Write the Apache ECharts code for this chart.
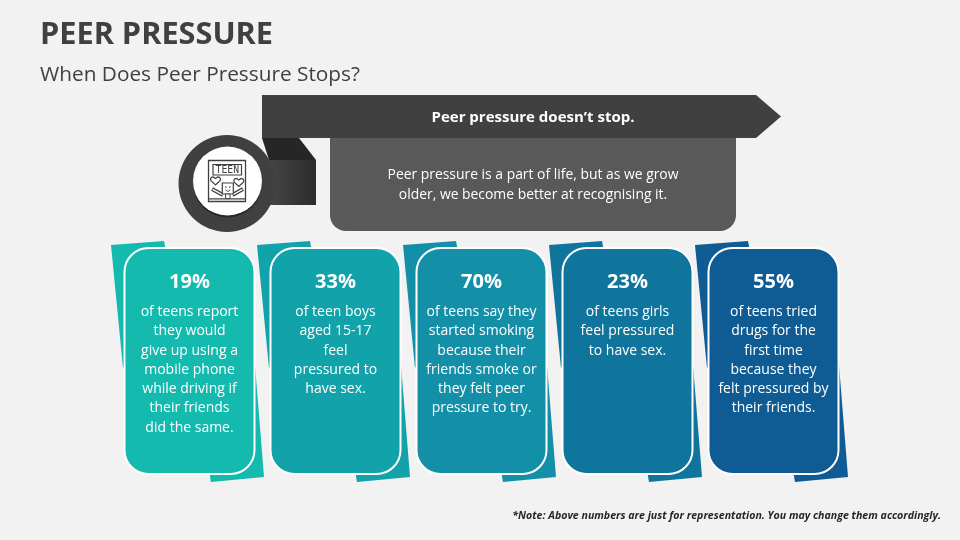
<!DOCTYPE html>
<html>
<head>
<meta charset="utf-8">
<style>html,body{margin:0;padding:0;background:#f2f2f2}#main{width:960px;height:540px}</style>
<script src="https://cdn.jsdelivr.net/npm/echarts@6/dist/echarts.min.js"></script>
</head>
<body>
<div id="main"></div>
<script>
var titleText = 'PEER PRESSURE';
var subTitle = 'When Does Peer Pressure Stops?';
var bannerText = 'Peer pressure doesn\u2019t stop.';
var boxLines = ['Peer pressure is a part of life, but as we grow', 'older, we become better at recognising it.'];
var noteText = '*Note: Above numbers are just for representation. You may change them accordingly.';
var percents = ['19%', '33%', '70%', '23%', '55%'];
var cardTexts = [
	['of teens report', 'they would', 'give up using a', 'mobile phone', 'while driving if', 'their friends', 'did the same.'],
	['of teen boys', 'aged 15-17', 'feel', 'pressured to', 'have sex.'],
	['of teens say they', 'started smoking', 'because their', 'friends smoke or', 'they felt peer', 'pressure to try.'],
	['of teens girls', 'feel pressured', 'to have sex.'],
	['of teens tried', 'drugs for the', 'first time', 'because they', 'felt pressured by', 'their friends.']
];
var cardColors = ['#14BAAE', '#12A2A9', '#1390A8', '#10759C', '#0F5C94'];

var font = '"Open Sans", sans-serif';
var dark = '#404040';

function poly(pts, color, z) {
	return {type: 'polygon', shape: {points: pts}, style: {fill: color}, z: z, silent: true};
}
function txt(x, y, s, size, weight, color, align, extra) {
	var st = {x: x, y: y, text: s, fontFamily: font, fontSize: size, fontWeight: weight, fill: color, textAlign: align || 'center', textVerticalAlign: 'middle'};
	if (extra) { for (var k in extra) st[k] = extra[k]; }
	return {type: 'text', style: st, z: 20, silent: true};
}
function ln(x1, y1, x2, y2, w, color, z) {
	return {type: 'line', shape: {x1: x1, y1: y1, x2: x2, y2: y2}, style: {stroke: color || dark, lineWidth: w || 1}, z: z || 15, silent: true};
}
function box(x, y, w, h, fill, lw, z) {
	return {type: 'rect', shape: {x: x, y: y, width: w, height: h}, style: {fill: fill || 'none', stroke: dark, lineWidth: lw || 1}, z: z || 14, silent: true};
}
function heart(cx, cy) {
	var pts = [[0, 4.4], [-4.6, 0.2], [-5, -1.6], [-4, -3.2], [-2.2, -3.6], [0, -2], [2.2, -3.6], [4, -3.2], [5, -1.6], [4.6, 0.2]];
	return {type: 'polygon', shape: {points: pts.map(function (p) { return [cx + p[0], cy + p[1]]; })}, style: {fill: '#fff', stroke: dark, lineWidth: 1.2}, z: 15, silent: true};
}

var els = [];
els.push(txt(40, 35.5, titleText, 30.7, 700, dark, 'left'));
els.push(txt(40, 75, subTitle, 20.8, 400, dark, 'left'));
els.push(txt(941, 515.5, noteText, 10.6, 700, '#262626', 'right', {fontStyle: 'italic'}));

// grey box and arrow banner
els.push({type: 'rect', shape: {x: 330, y: 130, width: 406, height: 101, r: [0, 0, 16, 16]}, style: {fill: '#595959'}, z: 2, silent: true});
els.push(poly([[262, 95], [756, 95], [781, 116.5], [756, 138], [262, 138]], dark, 3));
els.push(txt(533, 117.5, bannerText, 15, 700, '#fff'));
els.push(txt(533, 175, boxLines[0], 13.9, 400, '#fff'));
els.push(txt(533, 195, boxLines[1], 13.9, 400, '#fff'));

// ribbon behind the badge
els.push(poly([[262, 138], [299, 138], [316, 160], [269, 160]], '#262626', 4));
els.push({type: 'rect', shape: {x: 262, y: 160, width: 54, height: 45}, z: 4, silent: true, style: {
	fill: new echarts.graphic.LinearGradient(0, 0, 1, 0, [{offset: 0, color: '#4a4a4a'}, {offset: 1, color: '#2b2b2b'}])
}});

// badge
els.push({type: 'circle', shape: {cx: 227, cy: 183.5, r: 48.5}, style: {fill: dark}, z: 5, silent: true});
els.push({type: 'circle', shape: {cx: 227.5, cy: 183, r: 34.5}, style: {fill: '#262626'}, z: 6, silent: true});
els.push({type: 'circle', shape: {cx: 227.5, cy: 181, r: 34.5}, style: {fill: '#fff'}, z: 7, silent: true});

// teen icon
els.push(box(208.5, 160.5, 37, 41, '#fff', 1.3));
els.push(box(213, 164.5, 28.5, 10.5, '#fff', 1.2));
els.push(txt(227.3, 170, 'TEEN', 9.8, 400, dark, 'center', {fontFamily: '"DejaVu Sans Mono", monospace'}));
els.push(ln(208.5, 198.8, 245.5, 198.8, 1.2));
els.push(heart(215.5, 180.5));
els.push(heart(238.8, 182));
// arms, dark outline with a white core
els.push(ln(223, 195, 212, 189, 3.8));
els.push(ln(232.5, 195, 243, 189, 3.8));
els.push(ln(223, 195, 212.6, 189.3, 1.4, '#fff', 16));
els.push(ln(232.5, 195, 242.4, 189.3, 1.4, '#fff', 16));
// head and body
els.push(box(222.3, 183, 11, 11, '#fff', 1.2, 17));
els.push(box(225.6, 194, 4.4, 4.6, '#fff', 1, 17));
els.push({type: 'circle', shape: {cx: 225.8, cy: 187, r: 0.8}, style: {fill: dark}, z: 18, silent: true});
els.push({type: 'circle', shape: {cx: 229.8, cy: 187, r: 0.8}, style: {fill: dark}, z: 18, silent: true});
els.push({type: 'arc', shape: {cx: 227.8, cy: 189, r: 2.3, startAngle: 0.2, endAngle: Math.PI - 0.2}, style: {stroke: dark, fill: 'none', lineWidth: 0.9}, z: 18, silent: true});

// cards
for (var i = 0; i < percents.length; i++) {
	var dx = i * 146;
	var c = cardColors[i];
	els.push(poly([[111 + dx, 245], [164 + dx, 241], [175 + dx, 300], [123 + dx, 368]], c, 8));
	els.push(poly([[255 + dx, 365], [264 + dx, 477], [211 + dx, 482], [200 + dx, 420]], c, 8));
	els.push({type: 'rect', shape: {x: 124.5 + dx, y: 248, width: 130, height: 226, r: 24}, style: {fill: c, stroke: '#fff', lineWidth: 2}, z: 9, silent: true});
	els.push(txt(189.5 + dx, 282, percents[i], 20, 700, '#fff'));
	for (var j = 0; j < cardTexts[i].length; j++) {
		els.push(txt(189.5 + dx, 312 + j * 19.3, cardTexts[i][j], 14, 400, '#fff'));
	}
}

var chart = echarts.init(document.getElementById('main'));
chart.setOption({
	backgroundColor: '#f2f2f2',
	animation: false,
	graphic: {elements: els}
});
</script>
</body>
</html>
